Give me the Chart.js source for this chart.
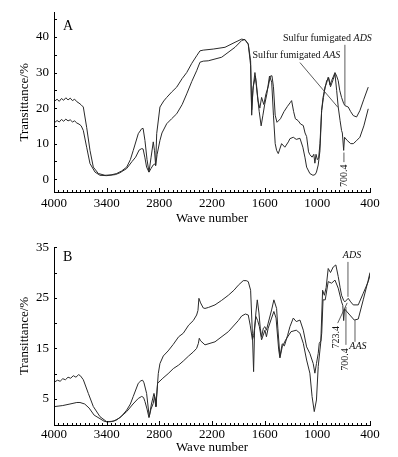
<!DOCTYPE html>
<html>
<head>
<meta charset="utf-8">
<script src="https://cdn.jsdelivr.net/npm/chart.js@4"></script>
<style>
  body { margin: 0; background: #fff; }
  .panel { position: absolute; left: 0; width: 398px; height: 228px; }
  #wrapA { top: 0; }
  #wrapB { top: 229px; }
</style>
</head>
<body>
<div class="panel" id="wrapA"><canvas id="chartA" width="398" height="228"></canvas></div>
<div class="panel" id="wrapB"><canvas id="chartB" width="398" height="228"></canvas></div>
<script>
// axis tick labels
const xTickLabels = [4000, 3400, 2800, 2200, 1600, 1000, 400];
const yLabelsA = [0, 10, 20, 30, 40];
const yLabelsB = [5, 15, 25, 35];

// panel A - sulfur fumigated ADS (upper trace)
const wnA_ADS = [3990,3965,3940,3915,3890,3865,3840,3815,3790,3765,3740,3715,3690,3666,3628,3590,3552,3495,3419,3350,3286,3230,3172,3130,3097,3040,3001,2985,2964,2940,2918,2895,2869,2855,2842,2830,2793,2750,2716,2660,2602,2540,2488,2430,2375,2337,2300,2186,2052,1938,1862,1825,1787,1760,1748,1735,1711,1695,1675,1655,1635,1610,1585,1560,1535,1517,1500,1480,1460,1420,1380,1340,1310,1293,1270,1250,1220,1190,1160,1140,1122,1100,1085,1060,1040,1028,1015,1000,985,970,951,930,913,895,876,855,838,815,799,780,762,745,724,700,686,648,620,591,553,515,470,420];
const tA_ADS = [22.0,22.5,21.9,22.7,22.2,22.9,22.3,22.8,22.1,22.5,21.8,21.4,20.9,20.3,14.6,8.1,3.4,1.6,1.1,1.2,1.6,2.3,3.4,5.5,8.1,12.8,14.2,14.3,10.9,5.5,2.0,6.0,10.5,8.0,3.9,12.8,20.3,22.0,23.0,24.5,25.9,28.3,30.0,32.6,34.7,36.1,36.3,36.6,37.1,38.5,39.4,39.2,38.0,33.3,18.0,25.0,30.0,27.0,22.0,20.0,23.0,21.0,24.0,26.0,29.0,29.1,26.0,18.0,16.0,17.0,19.0,20.5,21.5,22.1,19.0,17.0,16.5,15.5,15.1,13.0,12.0,7.7,6.9,6.2,7.0,4.5,7.0,5.5,6.0,10.0,19.3,23.0,25.9,27.0,28.7,26.5,27.7,29.0,30.0,29.0,27.7,25.0,23.0,21.3,20.7,20.3,19.0,17.9,17.5,19.3,22.5,25.9];

// panel A - sulfur fumigated AAS (lower trace)
const wnA_AAS = [3990,3965,3940,3915,3890,3865,3840,3815,3790,3765,3740,3715,3690,3666,3628,3590,3533,3476,3400,3300,3250,3172,3110,3070,3030,3001,2985,2964,2945,2918,2895,2870,2855,2842,2825,2793,2770,2716,2660,2602,2540,2488,2430,2375,2337,2300,2243,2090,1938,1862,1825,1787,1760,1748,1730,1706,1685,1662,1640,1620,1600,1575,1545,1520,1500,1480,1464,1445,1407,1370,1330,1312,1274,1240,1198,1165,1140,1122,1085,1050,1025,1010,990,970,951,935,894,870,850,820,799,780,762,741,724,715,700,690,660,620,590,555,515,470,420];
const tA_AAS = [16.0,16.5,16.1,16.8,16.3,16.9,16.4,16.7,16.1,16.4,15.8,15.5,15.0,13.7,9.0,4.4,2.0,1.1,1.0,1.3,1.8,3.0,5.0,6.2,8.2,8.6,8.5,6.0,3.4,2.0,3.0,4.0,4.3,3.8,7.0,10.9,13.0,15.6,17.0,18.4,21.0,24.0,27.5,30.5,32.9,33.2,33.3,34.3,37.1,39.0,39.3,38.0,32.0,19.5,26.0,29.0,24.0,19.0,15.0,18.0,21.0,24.0,29.0,27.3,18.0,10.0,8.1,7.2,10.0,9.0,10.5,11.4,11.8,11.2,11.5,9.0,6.0,3.4,1.6,1.1,1.3,2.0,4.0,8.0,19.3,23.0,27.7,28.5,26.0,28.0,29.6,25.0,20.3,16.5,13.7,13.0,8.1,11.8,10.9,10.0,10.0,10.8,11.8,15.0,19.8];

// panel B - ADS
const wnB_ADS = [3990,3960,3930,3900,3870,3840,3810,3780,3750,3720,3700,3666,3609,3552,3476,3400,3350,3286,3230,3172,3130,3097,3040,3010,2990,2975,2945,2915,2890,2861,2845,2838,2812,2793,2755,2700,2641,2580,2527,2466,2413,2375,2360,2349,2330,2300,2280,2240,2166,2090,2014,1950,1900,1844,1810,1787,1760,1740,1726,1715,1700,1684,1665,1650,1635,1615,1597,1580,1560,1521,1495,1464,1450,1426,1400,1375,1340,1312,1274,1240,1198,1160,1122,1085,1047,1028,1010,990,978,960,940,920,900,876,850,819,789,762,740,724,700,686,648,620,591,534,477,420,400];
const tB_ADS = [8.4,8.7,8.5,9.0,8.8,9.3,9.1,9.6,9.3,9.8,9.6,8.8,6.1,3.5,1.5,0.5,0.5,0.85,1.6,2.8,4.0,5.5,8.1,8.6,8.7,8.2,6.1,1.5,4.0,6.1,5.0,3.5,10.0,12.0,13.5,14.5,15.8,17.3,18.0,19.6,20.5,21.6,22.5,24.9,24.0,23.0,22.9,23.1,23.6,24.5,25.5,26.5,27.5,28.4,28.4,28.2,26.5,18.0,10.4,18.6,22.0,24.6,22.0,19.0,17.3,19.0,19.3,18.6,20.0,22.6,24.6,22.9,19.0,13.4,15.9,15.5,17.5,19.3,21.0,20.3,20.6,18.6,15.3,14.0,12.0,10.1,12.0,14.0,16.0,16.5,26.5,25.5,27.0,30.8,30.0,31.1,31.5,29.2,27.0,25.5,24.5,24.2,24.9,24.2,23.6,23.6,25.9,28.2,29.5];

// panel B - AAS
const wnB_AAS = [3990,3900,3818,3740,3704,3650,3600,3543,3476,3430,3400,3320,3250,3172,3100,3040,3001,2980,2964,2940,2918,2895,2870,2855,2840,2820,2760,2700,2641,2580,2527,2466,2413,2375,2355,2345,2330,2280,2166,2014,1900,1862,1820,1787,1765,1740,1726,1700,1680,1660,1635,1597,1580,1560,1521,1495,1470,1440,1426,1400,1360,1300,1240,1198,1160,1122,1085,1060,1035,1010,990,970,950,935,910,876,838,799,762,724,710,700,690,650,579,534,477,420,400];
const tB_AAS = [3.5,3.7,4.0,4.3,4.3,4.0,3.2,1.8,1.1,0.6,0.5,0.6,1.3,2.5,4.0,5.1,5.5,5.3,4.5,3.0,1.3,3.0,4.1,5.5,3.5,8.1,9.1,10.0,11.0,11.7,12.5,13.5,14.3,15.0,16.0,17.0,16.5,15.7,16.3,18.3,20.5,21.4,21.8,21.6,19.6,16.7,17.5,21.3,20.5,19.3,16.7,18.6,17.3,19.0,21.0,22.3,21.0,14.7,13.1,15.3,16.7,18.3,18.6,18.0,16.0,12.7,10.1,5.5,2.5,4.8,11.4,14.7,18.0,24.6,24.6,28.2,27.9,28.5,26.9,24.2,23.5,20.5,22.8,22.0,20.6,20.8,24.6,28.5,30.0];

const SERIF = '"Liberation Serif", "Times New Roman", serif';
Chart.defaults.font.family = SERIF;
Chart.defaults.color = '#000';

const pts = (wn, t) => wn.map((w, i) => ({ x: w, y: t[i] }));

// labels, leader lines and inward ticks
const notesPlugin = {
  id: 'notes',
  afterDatasetsDraw(chart, args, opts) {
    const { ctx, chartArea } = chart;
    const x = chart.scales.x, y = chart.scales.y;
    ctx.save();

    // inward tick marks
    ctx.strokeStyle = '#000';
    ctx.lineWidth = 1;
    ctx.beginPath();
    for (let v = 400; v <= 4000; v += 50) {
      const px = Math.round(x.getPixelForValue(v)) + 0.5;
      const len = (v - 400) % 600 === 0 ? 4 : 2;
      ctx.moveTo(px, chartArea.bottom);
      ctx.lineTo(px, chartArea.bottom - len);
    }
    opts.yTicks.forEach(v => {
      const py = Math.round(y.getPixelForValue(v)) + 0.5;
      ctx.moveTo(chartArea.left, py);
      ctx.lineTo(chartArea.left + 3, py);
    });
    ctx.stroke();

    // leader lines
    ctx.strokeStyle = '#333';
    ctx.lineWidth = 0.8;
    opts.lines.forEach(l => {
      ctx.beginPath();
      ctx.moveTo(x.getPixelForValue(l[0]), y.getPixelForValue(l[1]));
      ctx.lineTo(x.getPixelForValue(l[2]), y.getPixelForValue(l[3]));
      ctx.stroke();
    });

    // texts
    ctx.fillStyle = '#111';
    ctx.textBaseline = 'middle';
    ctx.textAlign = 'left';
    opts.texts.forEach(t => {
      ctx.save();
      ctx.translate(x.getPixelForValue(t.x), y.getPixelForValue(t.y));
      if (t.rot) ctx.rotate(-Math.PI / 2);
      ctx.font = '10px ' + SERIF;
      const w1 = ctx.measureText(t.plain || '').width;
      ctx.font = 'italic 10px ' + SERIF;
      const w2 = ctx.measureText(t.ital || '').width;
      const start = -(w1 + w2) / 2;
      ctx.font = '10px ' + SERIF;
      ctx.fillText(t.plain || '', start, 0);
      ctx.font = 'italic 10px ' + SERIF;
      ctx.fillText(t.ital || '', start + w1, 0);
      ctx.restore();
    });

    // panel letter
    ctx.font = '14px ' + SERIF;
    ctx.textBaseline = 'alphabetic';
    ctx.fillStyle = '#000';
    ctx.fillText(opts.letter.text, x.getPixelForValue(opts.letter.x), y.getPixelForValue(opts.letter.y));
    ctx.restore();
  }
};

function makeChart(id, sets, o) {
  return new Chart(document.getElementById(id), {
    type: 'line',
    data: {
      datasets: sets.map(s => ({
        label: s.label,
        data: s.data,
        borderColor: '#2a2a2a',
        borderWidth: 1,
        pointRadius: 0,
        tension: 0,
        fill: false
      }))
    },
    options: {
      responsive: false,
      animation: false,
      layout: { padding: { left: 13, right: 28, top: o.top, bottom: 0 } },
      plugins: {
        legend: { display: false },
        tooltip: { enabled: false },
        notes: o.notes
      },
      scales: {
        x: {
          type: 'linear',
          reverse: true,
          min: 400,
          max: 4000,
          afterBuildTicks: sc => { sc.ticks = xTickLabels.map(v => ({ value: v })); },
          afterFit: sc => { sc.height = o.xHeight; },
          grid: { display: false, drawTicks: false },
          border: { display: true, color: '#000', width: 1 },
          ticks: { font: { size: 13 }, padding: o.xPad, maxRotation: 0, autoSkip: false, callback: v => String(v) },
          title: { display: true, text: 'Wave number', font: { size: 13 }, padding: { top: 0, bottom: 2 } }
        },
        y: {
          min: o.yMin,
          max: o.yMax,
          afterBuildTicks: sc => { sc.ticks = o.yLabels.map(v => ({ value: v })); },
          afterFit: sc => { sc.width = 41; },
          grid: { display: false, drawTicks: false },
          border: { display: true, color: '#000', width: 1 },
          ticks: { font: { size: 13 }, padding: 5, callback: v => String(v) },
          title: { display: true, text: 'Transittance/%', font: { size: 13 }, padding: { top: 4, bottom: 0 } }
        }
      }
    },
    plugins: [notesPlugin]
  });
}

makeChart('chartA', [
  { label: 'Sulfur fumigated ADS', data: pts(wnA_ADS, tA_ADS) },
  { label: 'Sulfur fumigated AAS', data: pts(wnA_AAS, tA_AAS) }
], {
  top: 12, xHeight: 36, xPad: 4, yMin: -3.6, yMax: 46.8, yLabels: yLabelsA,
  notes: {
    yTicks: [0, 5, 10, 15, 20, 25, 30, 35, 40, 45],
    letter: { text: 'A', x: 3897, y: 42 },
    lines: [[686, 37.8, 686, 20.9], [1198, 32.8, 765, 20.2], [697, 7.5, 697, 4.8]],
    texts: [
      { x: 885, y: 39.5, plain: 'Sulfur fumigated ', ital: 'ADS' },
      { x: 1238, y: 34.7, plain: 'Sulfur fumigated ', ital: 'AAS' },
      { x: 697, y: 1.0, plain: '700.4', rot: true }
    ]
  }
});

makeChart('chartB', [
  { label: 'ADS', data: pts(wnB_ADS, tB_ADS) },
  { label: 'AAS', data: pts(wnB_AAS, tB_AAS) }
], {
  top: 18, xHeight: 32, xPad: 2, yMin: -0.15, yMax: 35.05, yLabels: yLabelsB,
  notes: {
    yTicks: [5, 10, 15, 20, 25, 30, 35],
    letter: { text: 'B', x: 3897, y: 32.3 },
    lines: [[651, 32.1, 651, 25.2], [768, 20.0, 660, 24.0], [674, 23.2, 674, 15.7], [571, 20.6, 571, 16.3]],
    texts: [
      { x: 605, y: 33.3, ital: 'ADS' },
      { x: 788, y: 17.2, plain: '723.4', rot: true },
      { x: 686, y: 12.8, plain: '700.4', rot: true },
      { x: 537, y: 15.3, ital: 'AAS' }
    ]
  }
});
</script>
</body>
</html>
